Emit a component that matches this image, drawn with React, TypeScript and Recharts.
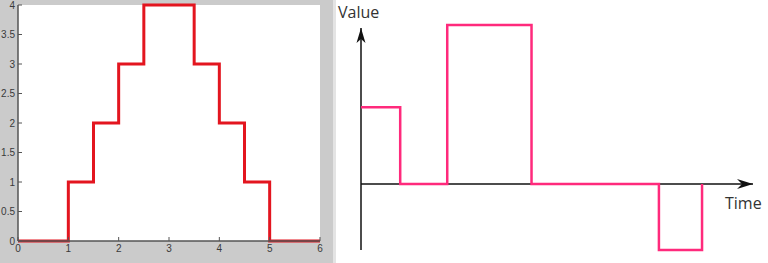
import React from "react";
import {
  CartesianGrid,
  Line,
  LineChart,
  ReferenceDot,
  ReferenceLine,
  XAxis,
  YAxis,
} from "recharts";

// left panel: staircase (MATLAB-style plot)
const stairX = [0, 1, 1.5, 2, 2.5, 3.5, 4, 4.5, 5, 6];
const stairY = [0, 1, 2, 3, 4, 3, 2, 1, 0, 0];
const stairXTicks = [0, 1, 2, 3, 4, 5, 6];
const stairYTicks = [0, 0.5, 1, 1.5, 2, 2.5, 3, 3.5, 4];

// right panel: piecewise-constant signal
const signalTime = [0, 1, 2.2, 4.35, 7.6, 8.7];
const signalValue = [2.33, 0, 4.82, 0, -2, 0];
const timeMax = 10;
const valueMin = -2;
const valueMax = 4.82;
const valueArrow = 4.73;

const stairData = stairX.map((x, i) => ({ x, y: stairY[i] }));
const signalData = signalTime.map((t, i) => ({ t, v: signalValue[i] }));

const boxColor = "#555";
const tickFont = { fontSize: 10, fill: "#3a3a3a", fontFamily: "Liberation Sans, Arial, sans-serif" };
const noLabel = () => "";

function RightArrow(props: any) {
  const { cx, cy } = props;
  return (
    <path
      d={`M${cx},${cy} L${cx - 16},${cy - 5} L${cx - 11},${cy} L${cx - 16},${cy + 5} Z`}
      fill="#111"
    />
  );
}

function UpArrow(props: any) {
  const { cx, cy } = props;
  return (
    <path
      d={`M${cx},${cy} L${cx - 4.5},${cy + 15} L${cx},${cy + 11} L${cx + 4.5},${cy + 15} Z`}
      fill="#111"
    />
  );
}

function TimeLabel(props: any) {
  const { viewBox } = props;
  return (
    <text
      x={viewBox.x + viewBox.width - 28}
      y={viewBox.y + 25}
      fontSize={16}
      fill="#333"
      fontFamily="Open Sans, sans-serif"
    >
      Time
    </text>
  );
}

function ValueLabel(props: any) {
  const { viewBox } = props;
  return (
    <text
      x={viewBox.x - 23}
      y={viewBox.y - 10}
      fontSize={16}
      fill="#333"
      fontFamily="Open Sans, sans-serif"
    >
      Value
    </text>
  );
}

export default function App() {
  return (
    <div style={{ position: "absolute", left: 0, top: 0, width: 768, height: 263, background: "#fff" }}>
      <div style={{ position: "absolute", left: 0, top: 0, width: 333, height: 263, background: "#cbcbcb" }}>
        <LineChart
          width={333}
          height={263}
          data={stairData}
          margin={{ top: 5, right: 13, bottom: 0, left: 0 }}
        >
          <CartesianGrid fill="#fff" horizontal={false} vertical={false} />
          <XAxis
            dataKey="x"
            type="number"
            domain={[0, 6]}
            ticks={stairXTicks}
            height={22}
            tickSize={-4}
            tickMargin={8}
            tick={tickFont}
            axisLine={{ stroke: boxColor, strokeWidth: 1.5 }}
            tickLine={{ stroke: boxColor }}
          />
          <XAxis
            xAxisId="top"
            orientation="top"
            dataKey="x"
            type="number"
            domain={[0, 6]}
            ticks={stairXTicks}
            height={0}
            tickSize={-4}
            tickFormatter={noLabel}
            axisLine={{ stroke: boxColor, strokeWidth: 1.5 }}
            tickLine={{ stroke: boxColor }}
          />
          <YAxis
            type="number"
            domain={[0, 4]}
            ticks={stairYTicks}
            width={18}
            tickSize={-4}
            tickMargin={7}
            tick={tickFont}
            axisLine={{ stroke: boxColor, strokeWidth: 1.5 }}
            tickLine={{ stroke: boxColor }}
          />
          <YAxis
            yAxisId="right"
            orientation="right"
            type="number"
            domain={[0, 4]}
            ticks={stairYTicks}
            width={0}
            tickSize={-4}
            tickFormatter={noLabel}
            axisLine={{ stroke: boxColor, strokeWidth: 1.5 }}
            tickLine={{ stroke: boxColor }}
          />
          <Line
            type="stepAfter"
            dataKey="y"
            stroke="#e3151f"
            strokeWidth={3}
            dot={false}
            isAnimationActive={false}
          />
        </LineChart>
      </div>
      <div style={{ position: "absolute", left: 333, top: 0, width: 3, height: 263, background: "#e4e4e4" }} />
      <div style={{ position: "absolute", left: 333, top: 0, width: 435, height: 263 }}>
        <LineChart
          width={435}
          height={263}
          data={signalData}
          margin={{ top: 25, right: 15, bottom: 13, left: 28 }}
        >
          <XAxis dataKey="t" type="number" domain={[0, timeMax]} hide />
          <YAxis type="number" domain={[valueMin, valueMax]} hide />
          <ReferenceLine y={0} stroke="#111" strokeWidth={1.5} label={<TimeLabel />} />
          <ReferenceLine
            segment={[{ x: 0, y: valueMin }, { x: 0, y: valueArrow }]}
            stroke="#111"
            strokeWidth={1.5}
            label={<ValueLabel />}
          />
          <ReferenceDot x={timeMax} y={0} ifOverflow="visible" shape={<RightArrow />} />
          <ReferenceDot x={0} y={valueArrow} ifOverflow="visible" shape={<UpArrow />} />
          <Line
            type="stepAfter"
            dataKey="v"
            stroke="#ff2a7c"
            strokeWidth={2.5}
            dot={false}
            isAnimationActive={false}
          />
        </LineChart>
      </div>
    </div>
  );
}
